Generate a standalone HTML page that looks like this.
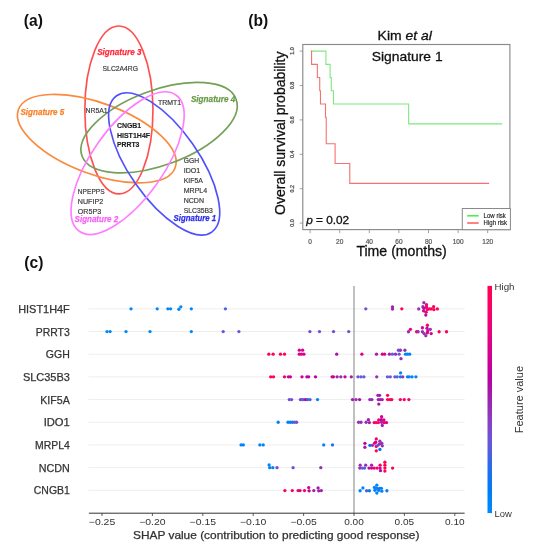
<!DOCTYPE html>
<html><head><meta charset="utf-8"><style>
html,body{margin:0;padding:0;background:#fff;width:542px;height:550px;overflow:hidden}
svg{display:block;will-change:transform;font-family:"Liberation Sans", sans-serif}
</style></head><body>
<svg width="542" height="550" viewBox="0 0 542 550">
<rect width="542" height="550" fill="#fff"/>
<text x="23.80" y="25.70" font-size="15.6" fill="#111" font-weight="bold">(a)</text>
<text x="248.30" y="25.70" font-size="15.6" fill="#111" font-weight="bold">(b)</text>
<text x="24.30" y="267.70" font-size="15.6" fill="#111" font-weight="bold">(c)</text>
<ellipse cx="118.90" cy="109.96" rx="83.93" ry="34.06" transform="rotate(89.91 118.90 109.96)" fill="none" stroke="#ff5050" stroke-width="1.65"/>
<ellipse cx="96.82" cy="138.63" rx="83.58" ry="35.50" transform="rotate(20.39 96.82 138.63)" fill="none" stroke="#f98b3f" stroke-width="1.65"/>
<ellipse cx="159.08" cy="127.62" rx="82.11" ry="37.51" transform="rotate(-20.26 159.08 127.62)" fill="none" stroke="#74a058" stroke-width="1.65"/>
<ellipse cx="164.17" cy="163.92" rx="83.11" ry="34.82" transform="rotate(55.09 164.17 163.92)" fill="none" stroke="#5050ff" stroke-width="1.65"/>
<ellipse cx="127.60" cy="163.14" rx="83.53" ry="35.84" transform="rotate(-54.65 127.60 163.14)" fill="none" stroke="#ff7eff" stroke-width="1.65"/>
<text x="97.20" y="54.60" font-size="9.8" fill="#ff2a3a" font-weight="bold" font-style="italic" textLength="44.30" lengthAdjust="spacingAndGlyphs" stroke-width="0.25" stroke="#ff2a3a">Signature 3</text>
<text x="20.50" y="114.90" font-size="9.8" fill="#f8822a" font-weight="bold" font-style="italic" textLength="43.80" lengthAdjust="spacingAndGlyphs" stroke-width="0.25" stroke="#f8822a">Signature 5</text>
<text x="190.90" y="101.80" font-size="9.8" fill="#6a9a48" font-weight="bold" font-style="italic" textLength="44.50" lengthAdjust="spacingAndGlyphs" stroke-width="0.25" stroke="#6a9a48">Signature 4</text>
<text x="173.60" y="221.40" font-size="9.8" fill="#2a2af0" font-weight="bold" font-style="italic" textLength="42.60" lengthAdjust="spacingAndGlyphs" stroke-width="0.25" stroke="#2a2af0">Signature 1</text>
<text x="74.60" y="222.30" font-size="9.8" fill="#f85ef8" font-weight="bold" font-style="italic" textLength="43.50" lengthAdjust="spacingAndGlyphs" stroke-width="0.25" stroke="#f85ef8">Signature 2</text>
<text x="102.60" y="70.90" font-size="8.1" fill="#3a3a3a" textLength="35.40" lengthAdjust="spacingAndGlyphs" stroke="#3a3a3a" stroke-width="0.2">SLC2A4RG</text>
<text x="85.40" y="112.60" font-size="8.1" fill="#3a3a3a" textLength="22.30" lengthAdjust="spacingAndGlyphs" stroke="#3a3a3a" stroke-width="0.2">NR5A1</text>
<text x="157.90" y="105.00" font-size="8.1" fill="#3a3a3a" textLength="23.20" lengthAdjust="spacingAndGlyphs" stroke="#3a3a3a" stroke-width="0.2">TRMT1</text>
<text x="116.90" y="127.60" font-size="8.1" fill="#1e1e1e" font-weight="bold" textLength="24.30" lengthAdjust="spacingAndGlyphs" stroke="#1e1e1e" stroke-width="0.15">CNGB1</text>
<text x="116.90" y="137.60" font-size="8.1" fill="#1e1e1e" font-weight="bold" textLength="33.20" lengthAdjust="spacingAndGlyphs" stroke="#1e1e1e" stroke-width="0.15">HIST1H4F</text>
<text x="116.90" y="147.30" font-size="8.1" fill="#1e1e1e" font-weight="bold" textLength="22.50" lengthAdjust="spacingAndGlyphs" stroke="#1e1e1e" stroke-width="0.15">PRRT3</text>
<text x="183.70" y="163.30" font-size="8.1" fill="#3a3a3a" textLength="15.40" lengthAdjust="spacingAndGlyphs" stroke="#3a3a3a" stroke-width="0.2">GGH</text>
<text x="183.70" y="173.22" font-size="8.1" fill="#3a3a3a" textLength="16.50" lengthAdjust="spacingAndGlyphs" stroke="#3a3a3a" stroke-width="0.2">IDO1</text>
<text x="183.70" y="183.14" font-size="8.1" fill="#3a3a3a" textLength="19.30" lengthAdjust="spacingAndGlyphs" stroke="#3a3a3a" stroke-width="0.2">KIF5A</text>
<text x="183.70" y="193.06" font-size="8.1" fill="#3a3a3a" textLength="23.50" lengthAdjust="spacingAndGlyphs" stroke="#3a3a3a" stroke-width="0.2">MRPL4</text>
<text x="183.70" y="202.98" font-size="8.1" fill="#3a3a3a" textLength="20.30" lengthAdjust="spacingAndGlyphs" stroke="#3a3a3a" stroke-width="0.2">NCDN</text>
<text x="183.70" y="212.90" font-size="8.1" fill="#3a3a3a" textLength="29.10" lengthAdjust="spacingAndGlyphs" stroke="#3a3a3a" stroke-width="0.2">SLC35B3</text>
<text x="77.80" y="194.30" font-size="8.1" fill="#3a3a3a" textLength="26.80" lengthAdjust="spacingAndGlyphs" stroke="#3a3a3a" stroke-width="0.2">NPEPPS</text>
<text x="77.80" y="204.30" font-size="8.1" fill="#3a3a3a" textLength="25.30" lengthAdjust="spacingAndGlyphs" stroke="#3a3a3a" stroke-width="0.2">NUFIP2</text>
<text x="77.80" y="214.30" font-size="8.1" fill="#3a3a3a" textLength="23.30" lengthAdjust="spacingAndGlyphs" stroke="#3a3a3a" stroke-width="0.2">OR5P3</text>
<rect x="302.8" y="44.5" width="207.1" height="185.1" fill="none" stroke="#8a8a8a" stroke-width="1.15"/>
<line x1="299.6" y1="223.1" x2="302.9" y2="223.1" stroke="#8a8a8a" stroke-width="0.8"/>
<text x="294.20" y="223.10" font-size="5.6" fill="#555" text-anchor="middle" textLength="7.40" lengthAdjust="spacingAndGlyphs" transform="rotate(-90 294.20 223.10)" stroke="#555" stroke-width="0.3">0.0</text>
<line x1="299.6" y1="188.7" x2="302.9" y2="188.7" stroke="#8a8a8a" stroke-width="0.8"/>
<text x="294.20" y="188.70" font-size="5.6" fill="#555" text-anchor="middle" textLength="7.40" lengthAdjust="spacingAndGlyphs" transform="rotate(-90 294.20 188.70)" stroke="#555" stroke-width="0.3">0.2</text>
<line x1="299.6" y1="154.3" x2="302.9" y2="154.3" stroke="#8a8a8a" stroke-width="0.8"/>
<text x="294.20" y="154.30" font-size="5.6" fill="#555" text-anchor="middle" textLength="7.40" lengthAdjust="spacingAndGlyphs" transform="rotate(-90 294.20 154.30)" stroke="#555" stroke-width="0.3">0.4</text>
<line x1="299.6" y1="119.9" x2="302.9" y2="119.9" stroke="#8a8a8a" stroke-width="0.8"/>
<text x="294.20" y="119.90" font-size="5.6" fill="#555" text-anchor="middle" textLength="7.40" lengthAdjust="spacingAndGlyphs" transform="rotate(-90 294.20 119.90)" stroke="#555" stroke-width="0.3">0.6</text>
<line x1="299.6" y1="85.5" x2="302.9" y2="85.5" stroke="#8a8a8a" stroke-width="0.8"/>
<text x="294.20" y="85.50" font-size="5.6" fill="#555" text-anchor="middle" textLength="7.40" lengthAdjust="spacingAndGlyphs" transform="rotate(-90 294.20 85.50)" stroke="#555" stroke-width="0.3">0.8</text>
<line x1="299.6" y1="51.1" x2="302.9" y2="51.1" stroke="#8a8a8a" stroke-width="0.8"/>
<text x="294.20" y="51.10" font-size="5.6" fill="#555" text-anchor="middle" textLength="7.40" lengthAdjust="spacingAndGlyphs" transform="rotate(-90 294.20 51.10)" stroke="#555" stroke-width="0.3">1.0</text>
<line x1="310.1" y1="229.7" x2="310.1" y2="233.2" stroke="#8a8a8a" stroke-width="0.8"/>
<text x="310.10" y="243.50" font-size="6.5" fill="#555" text-anchor="middle" stroke="#555" stroke-width="0.2">0</text>
<line x1="339.7" y1="229.7" x2="339.7" y2="233.2" stroke="#8a8a8a" stroke-width="0.8"/>
<text x="339.70" y="243.50" font-size="6.5" fill="#555" text-anchor="middle" stroke="#555" stroke-width="0.2">20</text>
<line x1="369.3" y1="229.7" x2="369.3" y2="233.2" stroke="#8a8a8a" stroke-width="0.8"/>
<text x="369.30" y="243.50" font-size="6.5" fill="#555" text-anchor="middle" stroke="#555" stroke-width="0.2">40</text>
<line x1="398.9" y1="229.7" x2="398.9" y2="233.2" stroke="#8a8a8a" stroke-width="0.8"/>
<text x="398.90" y="243.50" font-size="6.5" fill="#555" text-anchor="middle" stroke="#555" stroke-width="0.2">60</text>
<line x1="428.5" y1="229.7" x2="428.5" y2="233.2" stroke="#8a8a8a" stroke-width="0.8"/>
<text x="428.50" y="243.50" font-size="6.5" fill="#555" text-anchor="middle" stroke="#555" stroke-width="0.2">80</text>
<line x1="458.1" y1="229.7" x2="458.1" y2="233.2" stroke="#8a8a8a" stroke-width="0.8"/>
<text x="458.10" y="243.50" font-size="6.5" fill="#555" text-anchor="middle" stroke="#555" stroke-width="0.2">100</text>
<line x1="487.7" y1="229.7" x2="487.7" y2="233.2" stroke="#8a8a8a" stroke-width="0.8"/>
<text x="487.70" y="243.50" font-size="6.5" fill="#555" text-anchor="middle" stroke="#555" stroke-width="0.2">120</text>
<text x="356.40" y="255.60" font-size="14" fill="#111" textLength="90.40" lengthAdjust="spacingAndGlyphs" stroke="#111" stroke-width="0.3">Time (months)</text>
<text x="285.20" y="214.90" font-size="14" fill="#111" textLength="163.40" lengthAdjust="spacingAndGlyphs" transform="rotate(-90 285.20 214.90)" stroke="#111" stroke-width="0.3">Overall survival probability</text>
<text x="377.60" y="39.90" font-size="13.3" fill="#111" textLength="54.20" lengthAdjust="spacingAndGlyphs" stroke="#111" stroke-width="0.3">Kim <tspan font-style="italic">et al</tspan></text>
<text x="371.80" y="60.80" font-size="13.3" fill="#111" textLength="70.80" lengthAdjust="spacingAndGlyphs" stroke="#111" stroke-width="0.3">Signature 1</text>
<text x="306.20" y="224.20" font-size="11" fill="#111" textLength="43.00" lengthAdjust="spacingAndGlyphs" stroke="#111" stroke-width="0.3"><tspan font-style="italic">p</tspan> = 0.02</text>
<path d="M311.43,51.10 L325.94,51.10 L325.94,64.33 L330.08,64.33 L330.08,77.56 L331.26,77.56 L331.26,90.79 L333.48,90.79 L333.48,104.02 L408.67,104.02 L408.67,123.87 L502.20,123.87" fill="none" stroke="#7de87d" stroke-width="1.1"/>
<path d="M310.77,51.10 L311.58,51.10 L311.58,64.33 L317.35,64.33 L317.35,77.56 L319.72,77.56 L319.72,90.79 L320.46,90.79 L320.46,104.02 L325.49,104.02 L325.49,117.25 L326.23,117.25 L326.23,143.72 L335.11,143.72 L335.11,163.56 L349.76,163.56 L349.76,183.41 L489.18,183.41" fill="none" stroke="#f47272" stroke-width="1.1"/>
<rect x="462.3" y="208.5" width="48.1" height="21.2" fill="#fff" stroke="#8a8a8a" stroke-width="1"/>
<line x1="467.2" y1="215.8" x2="478.7" y2="215.8" stroke="#33ee33" stroke-width="1.4"/>
<line x1="467.2" y1="223.0" x2="478.7" y2="223.0" stroke="#ff4d4d" stroke-width="1.4"/>
<text x="483.60" y="217.90" font-size="6.3" fill="#222" textLength="22.20" lengthAdjust="spacingAndGlyphs" stroke="#222" stroke-width="0.15">Low risk</text>
<text x="483.60" y="225.10" font-size="6.3" fill="#222" textLength="23.50" lengthAdjust="spacingAndGlyphs" stroke="#222" stroke-width="0.15">High risk</text>
<line x1="88.5" y1="308.85" x2="464.6" y2="308.85" stroke="#ececec" stroke-width="0.9"/>
<text x="69.80" y="313.05" font-size="10.6" fill="#333" text-anchor="end" textLength="51.60" lengthAdjust="spacingAndGlyphs" stroke="#333" stroke-width="0.25">HIST1H4F</text>
<line x1="88.5" y1="331.53" x2="464.6" y2="331.53" stroke="#ececec" stroke-width="0.9"/>
<text x="69.80" y="335.73" font-size="10.6" fill="#333" text-anchor="end" textLength="34.00" lengthAdjust="spacingAndGlyphs" stroke="#333" stroke-width="0.25">PRRT3</text>
<line x1="88.5" y1="354.21" x2="464.6" y2="354.21" stroke="#ececec" stroke-width="0.9"/>
<text x="69.80" y="358.41" font-size="10.6" fill="#333" text-anchor="end" textLength="24.00" lengthAdjust="spacingAndGlyphs" stroke="#333" stroke-width="0.25">GGH</text>
<line x1="88.5" y1="376.89" x2="464.6" y2="376.89" stroke="#ececec" stroke-width="0.9"/>
<text x="69.80" y="381.09" font-size="10.6" fill="#333" text-anchor="end" textLength="46.90" lengthAdjust="spacingAndGlyphs" stroke="#333" stroke-width="0.25">SLC35B3</text>
<line x1="88.5" y1="399.57" x2="464.6" y2="399.57" stroke="#ececec" stroke-width="0.9"/>
<text x="69.80" y="403.77" font-size="10.6" fill="#333" text-anchor="end" textLength="29.60" lengthAdjust="spacingAndGlyphs" stroke="#333" stroke-width="0.25">KIF5A</text>
<line x1="88.5" y1="422.25" x2="464.6" y2="422.25" stroke="#ececec" stroke-width="0.9"/>
<text x="69.80" y="426.45" font-size="10.6" fill="#333" text-anchor="end" textLength="26.10" lengthAdjust="spacingAndGlyphs" stroke="#333" stroke-width="0.25">IDO1</text>
<line x1="88.5" y1="444.93" x2="464.6" y2="444.93" stroke="#ececec" stroke-width="0.9"/>
<text x="69.80" y="449.13" font-size="10.6" fill="#333" text-anchor="end" textLength="34.70" lengthAdjust="spacingAndGlyphs" stroke="#333" stroke-width="0.25">MRPL4</text>
<line x1="88.5" y1="467.61" x2="464.6" y2="467.61" stroke="#ececec" stroke-width="0.9"/>
<text x="69.80" y="471.81" font-size="10.6" fill="#333" text-anchor="end" textLength="31.10" lengthAdjust="spacingAndGlyphs" stroke="#333" stroke-width="0.25">NCDN</text>
<line x1="88.5" y1="490.29" x2="464.6" y2="490.29" stroke="#ececec" stroke-width="0.9"/>
<text x="69.80" y="494.49" font-size="10.6" fill="#333" text-anchor="end" textLength="36.00" lengthAdjust="spacingAndGlyphs" stroke="#333" stroke-width="0.25">CNGB1</text>
<line x1="354.00" y1="286" x2="354.00" y2="513.2" stroke="#8e8e8e" stroke-width="1.1"/>
<circle cx="131.00" cy="308.85" r="1.65" fill="#0088fa"/>
<circle cx="157.20" cy="308.85" r="1.65" fill="#0088fa"/>
<circle cx="167.90" cy="308.85" r="1.65" fill="#0088fa"/>
<circle cx="170.60" cy="308.85" r="1.65" fill="#0088fa"/>
<circle cx="178.90" cy="309.25" r="1.65" fill="#0088fa"/>
<circle cx="180.80" cy="306.85" r="1.65" fill="#0088fa"/>
<circle cx="191.30" cy="308.85" r="1.65" fill="#0088fa"/>
<circle cx="225.40" cy="308.85" r="1.65" fill="#4c63e3"/>
<circle cx="365.80" cy="308.85" r="1.65" fill="#764ed0"/>
<circle cx="392.50" cy="306.85" r="1.65" fill="#a01fab"/>
<circle cx="392.50" cy="309.05" r="1.65" fill="#a01fab"/>
<circle cx="401.80" cy="308.85" r="1.65" fill="#ff005a"/>
<circle cx="418.70" cy="308.95" r="1.65" fill="#9430b6"/>
<circle cx="423.90" cy="302.65" r="1.65" fill="#9430b6"/>
<circle cx="422.90" cy="306.65" r="1.65" fill="#9430b6"/>
<circle cx="423.90" cy="308.25" r="1.65" fill="#b00fa5"/>
<circle cx="423.60" cy="310.85" r="1.65" fill="#e10084"/>
<circle cx="425.80" cy="315.05" r="1.65" fill="#b00fa5"/>
<circle cx="426.50" cy="304.75" r="1.65" fill="#f6006c"/>
<circle cx="426.50" cy="307.25" r="1.65" fill="#f00074"/>
<circle cx="426.10" cy="312.15" r="1.65" fill="#e10084"/>
<circle cx="427.40" cy="309.55" r="1.65" fill="#fb0063"/>
<circle cx="429.40" cy="308.95" r="1.65" fill="#ff005a"/>
<circle cx="431.30" cy="308.95" r="1.65" fill="#ff005a"/>
<circle cx="433.60" cy="306.65" r="1.65" fill="#ff005a"/>
<circle cx="433.90" cy="309.55" r="1.65" fill="#ff005a"/>
<circle cx="437.40" cy="308.95" r="1.65" fill="#ff005a"/>
<circle cx="107.00" cy="331.55" r="1.65" fill="#0088fa"/>
<circle cx="110.10" cy="331.55" r="1.65" fill="#0088fa"/>
<circle cx="126.00" cy="331.55" r="1.65" fill="#0088fa"/>
<circle cx="150.00" cy="331.55" r="1.65" fill="#0088fa"/>
<circle cx="191.30" cy="331.55" r="1.65" fill="#0088fa"/>
<circle cx="223.20" cy="331.55" r="1.65" fill="#6459da"/>
<circle cx="238.90" cy="331.55" r="1.65" fill="#6459da"/>
<circle cx="309.90" cy="331.55" r="1.65" fill="#764ed0"/>
<circle cx="319.50" cy="331.55" r="1.65" fill="#764ed0"/>
<circle cx="333.50" cy="331.55" r="1.65" fill="#764ed0"/>
<circle cx="348.70" cy="331.55" r="1.65" fill="#764ed0"/>
<circle cx="408.50" cy="331.75" r="1.65" fill="#9430b6"/>
<circle cx="410.40" cy="329.35" r="1.65" fill="#e9007c"/>
<circle cx="416.60" cy="331.75" r="1.65" fill="#ff005a"/>
<circle cx="418.10" cy="331.75" r="1.65" fill="#9430b6"/>
<circle cx="422.40" cy="327.75" r="1.65" fill="#d9008c"/>
<circle cx="422.40" cy="331.75" r="1.65" fill="#9430b6"/>
<circle cx="424.10" cy="333.55" r="1.65" fill="#9430b6"/>
<circle cx="425.80" cy="335.65" r="1.65" fill="#9430b6"/>
<circle cx="427.40" cy="325.25" r="1.65" fill="#ff005a"/>
<circle cx="427.00" cy="328.15" r="1.65" fill="#b00fa5"/>
<circle cx="427.80" cy="330.65" r="1.65" fill="#e10084"/>
<circle cx="427.40" cy="332.75" r="1.65" fill="#d9008c"/>
<circle cx="430.30" cy="329.35" r="1.65" fill="#9430b6"/>
<circle cx="431.20" cy="333.55" r="1.65" fill="#d9008c"/>
<circle cx="439.10" cy="331.75" r="1.65" fill="#ff005a"/>
<circle cx="446.50" cy="331.75" r="1.65" fill="#ff005a"/>
<circle cx="268.80" cy="354.15" r="1.65" fill="#ff005a"/>
<circle cx="273.10" cy="354.15" r="1.65" fill="#ff005a"/>
<circle cx="280.50" cy="354.15" r="1.65" fill="#ff005a"/>
<circle cx="284.50" cy="354.15" r="1.65" fill="#ff005a"/>
<circle cx="299.30" cy="350.15" r="1.65" fill="#d9008c"/>
<circle cx="302.60" cy="350.15" r="1.65" fill="#d9008c"/>
<circle cx="299.30" cy="354.15" r="1.65" fill="#d9008c"/>
<circle cx="301.50" cy="354.15" r="1.65" fill="#d9008c"/>
<circle cx="303.90" cy="354.15" r="1.65" fill="#d9008c"/>
<circle cx="336.70" cy="354.15" r="1.65" fill="#b00fa5"/>
<circle cx="361.90" cy="354.15" r="1.65" fill="#e10084"/>
<circle cx="376.50" cy="354.15" r="1.65" fill="#a01fab"/>
<circle cx="382.30" cy="354.15" r="1.65" fill="#d9008c"/>
<circle cx="384.60" cy="354.15" r="1.65" fill="#d9008c"/>
<circle cx="389.40" cy="354.15" r="1.65" fill="#a01fab"/>
<circle cx="392.40" cy="354.15" r="1.65" fill="#6459da"/>
<circle cx="395.50" cy="354.15" r="1.65" fill="#9430b6"/>
<circle cx="398.40" cy="350.25" r="1.65" fill="#6459da"/>
<circle cx="400.40" cy="350.25" r="1.65" fill="#9430b6"/>
<circle cx="399.10" cy="354.15" r="1.65" fill="#6459da"/>
<circle cx="401.00" cy="358.65" r="1.65" fill="#9430b6"/>
<circle cx="404.90" cy="350.25" r="1.65" fill="#9430b6"/>
<circle cx="405.50" cy="354.15" r="1.65" fill="#0084f9"/>
<circle cx="407.50" cy="354.15" r="1.65" fill="#0084f9"/>
<circle cx="409.70" cy="354.15" r="1.65" fill="#0084f9"/>
<circle cx="270.70" cy="376.85" r="1.65" fill="#ff005a"/>
<circle cx="273.50" cy="376.85" r="1.65" fill="#ff005a"/>
<circle cx="284.50" cy="376.85" r="1.65" fill="#f00074"/>
<circle cx="288.40" cy="376.85" r="1.65" fill="#d10091"/>
<circle cx="290.40" cy="376.85" r="1.65" fill="#c70098"/>
<circle cx="302.00" cy="376.85" r="1.65" fill="#d10091"/>
<circle cx="306.90" cy="376.85" r="1.65" fill="#bf009d"/>
<circle cx="308.60" cy="376.85" r="1.65" fill="#bf009d"/>
<circle cx="315.50" cy="376.85" r="1.65" fill="#bf009d"/>
<circle cx="332.10" cy="376.85" r="1.65" fill="#cd0095"/>
<circle cx="333.40" cy="376.85" r="1.65" fill="#cd0095"/>
<circle cx="337.10" cy="376.85" r="1.65" fill="#a01fab"/>
<circle cx="340.80" cy="376.85" r="1.65" fill="#9829b1"/>
<circle cx="345.00" cy="376.85" r="1.65" fill="#cd0095"/>
<circle cx="351.30" cy="376.85" r="1.65" fill="#a01fab"/>
<circle cx="358.00" cy="376.85" r="1.65" fill="#6f52d4"/>
<circle cx="361.00" cy="376.85" r="1.65" fill="#6459da"/>
<circle cx="363.90" cy="376.85" r="1.65" fill="#6459da"/>
<circle cx="376.70" cy="376.85" r="1.65" fill="#9430b6"/>
<circle cx="387.50" cy="376.85" r="1.65" fill="#6459da"/>
<circle cx="390.30" cy="376.85" r="1.65" fill="#6459da"/>
<circle cx="394.90" cy="376.85" r="1.65" fill="#6459da"/>
<circle cx="397.10" cy="376.85" r="1.65" fill="#6459da"/>
<circle cx="400.60" cy="372.95" r="1.65" fill="#0084f9"/>
<circle cx="400.40" cy="376.85" r="1.65" fill="#007cf5"/>
<circle cx="402.70" cy="376.85" r="1.65" fill="#9430b6"/>
<circle cx="407.50" cy="376.85" r="1.65" fill="#0084f9"/>
<circle cx="409.20" cy="376.85" r="1.65" fill="#0084f9"/>
<circle cx="412.00" cy="376.85" r="1.65" fill="#0084f9"/>
<circle cx="415.90" cy="376.85" r="1.65" fill="#0084f9"/>
<circle cx="289.30" cy="399.55" r="1.65" fill="#7350d2"/>
<circle cx="291.60" cy="399.55" r="1.65" fill="#7350d2"/>
<circle cx="300.40" cy="399.55" r="1.65" fill="#7350d2"/>
<circle cx="302.00" cy="399.55" r="1.65" fill="#7350d2"/>
<circle cx="303.90" cy="399.55" r="1.65" fill="#794cce"/>
<circle cx="305.80" cy="399.55" r="1.65" fill="#bf009d"/>
<circle cx="307.80" cy="399.55" r="1.65" fill="#266cea"/>
<circle cx="310.00" cy="399.55" r="1.65" fill="#4c63e3"/>
<circle cx="317.50" cy="399.55" r="1.65" fill="#0084f9"/>
<circle cx="352.50" cy="399.55" r="1.65" fill="#a01fab"/>
<circle cx="356.00" cy="399.55" r="1.65" fill="#9430b6"/>
<circle cx="359.60" cy="399.55" r="1.65" fill="#b00fa5"/>
<circle cx="369.80" cy="399.55" r="1.65" fill="#9430b6"/>
<circle cx="371.90" cy="399.55" r="1.65" fill="#9430b6"/>
<circle cx="377.90" cy="395.35" r="1.65" fill="#a01fab"/>
<circle cx="379.60" cy="395.35" r="1.65" fill="#a01fab"/>
<circle cx="378.30" cy="399.55" r="1.65" fill="#a01fab"/>
<circle cx="380.10" cy="399.55" r="1.65" fill="#a01fab"/>
<circle cx="382.20" cy="399.55" r="1.65" fill="#a01fab"/>
<circle cx="378.80" cy="404.05" r="1.65" fill="#a01fab"/>
<circle cx="387.60" cy="395.35" r="1.65" fill="#ff005a"/>
<circle cx="387.60" cy="399.55" r="1.65" fill="#ff005a"/>
<circle cx="390.00" cy="399.55" r="1.65" fill="#ff005a"/>
<circle cx="391.80" cy="399.55" r="1.65" fill="#ff005a"/>
<circle cx="400.30" cy="399.55" r="1.65" fill="#fb0063"/>
<circle cx="404.20" cy="399.55" r="1.65" fill="#f6006c"/>
<circle cx="408.90" cy="399.55" r="1.65" fill="#fb0063"/>
<circle cx="278.20" cy="422.25" r="1.65" fill="#0084f9"/>
<circle cx="288.00" cy="422.25" r="1.65" fill="#0084f9"/>
<circle cx="290.20" cy="422.25" r="1.65" fill="#0084f9"/>
<circle cx="292.40" cy="422.25" r="1.65" fill="#007cf5"/>
<circle cx="294.50" cy="422.25" r="1.65" fill="#6459da"/>
<circle cx="296.60" cy="422.25" r="1.65" fill="#764ed0"/>
<circle cx="358.60" cy="422.25" r="1.65" fill="#9430b6"/>
<circle cx="361.00" cy="422.25" r="1.65" fill="#9430b6"/>
<circle cx="366.10" cy="422.25" r="1.65" fill="#9430b6"/>
<circle cx="368.40" cy="419.65" r="1.65" fill="#a01fab"/>
<circle cx="369.40" cy="422.55" r="1.65" fill="#a01fab"/>
<circle cx="374.20" cy="422.55" r="1.65" fill="#ff005a"/>
<circle cx="376.10" cy="422.55" r="1.65" fill="#ff005a"/>
<circle cx="378.70" cy="419.95" r="1.65" fill="#f6006c"/>
<circle cx="378.40" cy="422.55" r="1.65" fill="#fb0063"/>
<circle cx="381.60" cy="416.75" r="1.65" fill="#d9008c"/>
<circle cx="381.30" cy="419.65" r="1.65" fill="#bf009d"/>
<circle cx="381.60" cy="422.25" r="1.65" fill="#a01fab"/>
<circle cx="382.30" cy="425.45" r="1.65" fill="#a01fab"/>
<circle cx="383.90" cy="419.95" r="1.65" fill="#e10084"/>
<circle cx="384.20" cy="422.55" r="1.65" fill="#e10084"/>
<circle cx="386.50" cy="422.55" r="1.65" fill="#e10084"/>
<circle cx="241.10" cy="444.95" r="1.65" fill="#0084f9"/>
<circle cx="243.30" cy="444.95" r="1.65" fill="#0084f9"/>
<circle cx="259.90" cy="444.95" r="1.65" fill="#0084f9"/>
<circle cx="263.20" cy="444.95" r="1.65" fill="#0084f9"/>
<circle cx="323.70" cy="444.95" r="1.65" fill="#0084f9"/>
<circle cx="332.50" cy="444.95" r="1.65" fill="#266cea"/>
<circle cx="364.90" cy="443.35" r="1.65" fill="#bf009d"/>
<circle cx="364.90" cy="447.25" r="1.65" fill="#a01fab"/>
<circle cx="369.90" cy="445.35" r="1.65" fill="#0074f0"/>
<circle cx="372.40" cy="445.35" r="1.65" fill="#9430b6"/>
<circle cx="374.60" cy="443.15" r="1.65" fill="#e10084"/>
<circle cx="376.30" cy="438.95" r="1.65" fill="#ff005a"/>
<circle cx="375.70" cy="442.25" r="1.65" fill="#e10084"/>
<circle cx="376.30" cy="446.45" r="1.65" fill="#f00074"/>
<circle cx="376.30" cy="450.85" r="1.65" fill="#ff005a"/>
<circle cx="377.90" cy="445.35" r="1.65" fill="#6459da"/>
<circle cx="379.90" cy="441.15" r="1.65" fill="#9430b6"/>
<circle cx="379.60" cy="443.95" r="1.65" fill="#9430b6"/>
<circle cx="379.90" cy="449.45" r="1.65" fill="#0074f0"/>
<circle cx="381.80" cy="443.35" r="1.65" fill="#9430b6"/>
<circle cx="382.30" cy="445.85" r="1.65" fill="#9430b6"/>
<circle cx="269.10" cy="464.95" r="1.65" fill="#0084f9"/>
<circle cx="269.70" cy="467.65" r="1.65" fill="#0084f9"/>
<circle cx="272.80" cy="467.65" r="1.65" fill="#0084f9"/>
<circle cx="277.00" cy="467.65" r="1.65" fill="#764ed0"/>
<circle cx="293.10" cy="467.65" r="1.65" fill="#764ed0"/>
<circle cx="320.80" cy="467.65" r="1.65" fill="#9430b6"/>
<circle cx="360.20" cy="465.15" r="1.65" fill="#9430b6"/>
<circle cx="359.80" cy="468.05" r="1.65" fill="#9430b6"/>
<circle cx="362.40" cy="468.05" r="1.65" fill="#6459da"/>
<circle cx="364.60" cy="468.05" r="1.65" fill="#4c63e3"/>
<circle cx="365.70" cy="465.15" r="1.65" fill="#9430b6"/>
<circle cx="369.00" cy="468.05" r="1.65" fill="#b00fa5"/>
<circle cx="371.60" cy="465.15" r="1.65" fill="#a01fab"/>
<circle cx="371.60" cy="468.05" r="1.65" fill="#d9008c"/>
<circle cx="374.20" cy="468.05" r="1.65" fill="#f00074"/>
<circle cx="377.10" cy="468.05" r="1.65" fill="#f00074"/>
<circle cx="380.10" cy="465.15" r="1.65" fill="#fb0063"/>
<circle cx="380.10" cy="468.05" r="1.65" fill="#e10084"/>
<circle cx="380.50" cy="470.65" r="1.65" fill="#b00fa5"/>
<circle cx="384.90" cy="462.25" r="1.65" fill="#ff005a"/>
<circle cx="384.90" cy="465.15" r="1.65" fill="#ff005a"/>
<circle cx="384.90" cy="468.05" r="1.65" fill="#ff005a"/>
<circle cx="384.90" cy="471.05" r="1.65" fill="#ff005a"/>
<circle cx="392.60" cy="468.05" r="1.65" fill="#ff005a"/>
<circle cx="284.90" cy="490.55" r="1.65" fill="#ff005a"/>
<circle cx="292.30" cy="490.55" r="1.65" fill="#ff005a"/>
<circle cx="298.10" cy="490.55" r="1.65" fill="#f6006c"/>
<circle cx="300.00" cy="490.55" r="1.65" fill="#e10084"/>
<circle cx="304.50" cy="490.55" r="1.65" fill="#fb0063"/>
<circle cx="308.70" cy="487.55" r="1.65" fill="#d9008c"/>
<circle cx="309.10" cy="490.85" r="1.65" fill="#bf009d"/>
<circle cx="313.80" cy="490.55" r="1.65" fill="#a01fab"/>
<circle cx="318.10" cy="487.95" r="1.65" fill="#a01fab"/>
<circle cx="318.70" cy="490.85" r="1.65" fill="#a01fab"/>
<circle cx="321.30" cy="490.55" r="1.65" fill="#a01fab"/>
<circle cx="360.10" cy="490.75" r="1.65" fill="#0084f9"/>
<circle cx="362.90" cy="487.95" r="1.65" fill="#0084f9"/>
<circle cx="366.60" cy="490.75" r="1.65" fill="#4c63e3"/>
<circle cx="369.40" cy="490.75" r="1.65" fill="#007cf5"/>
<circle cx="374.40" cy="487.45" r="1.65" fill="#0084f9"/>
<circle cx="374.90" cy="490.25" r="1.65" fill="#0084f9"/>
<circle cx="376.80" cy="485.15" r="1.65" fill="#0084f9"/>
<circle cx="376.80" cy="488.35" r="1.65" fill="#0084f9"/>
<circle cx="376.80" cy="493.05" r="1.65" fill="#0084f9"/>
<circle cx="378.60" cy="490.45" r="1.65" fill="#0084f9"/>
<circle cx="379.50" cy="488.35" r="1.65" fill="#266cea"/>
<circle cx="381.40" cy="488.35" r="1.65" fill="#0084f9"/>
<circle cx="381.80" cy="491.15" r="1.65" fill="#0084f9"/>
<circle cx="386.90" cy="490.75" r="1.65" fill="#0084f9"/>
<line x1="88.9" y1="513.2" x2="464.6" y2="513.2" stroke="#333" stroke-width="1"/>
<line x1="102.00" y1="513.2" x2="102.00" y2="516.0" stroke="#333" stroke-width="0.8"/>
<text x="102.00" y="525.40" font-size="9.0" fill="#333" text-anchor="middle" textLength="26.40" lengthAdjust="spacingAndGlyphs">−0.25</text>
<line x1="152.40" y1="513.2" x2="152.40" y2="516.0" stroke="#333" stroke-width="0.8"/>
<text x="152.40" y="525.40" font-size="9.0" fill="#333" text-anchor="middle" textLength="26.40" lengthAdjust="spacingAndGlyphs">−0.20</text>
<line x1="202.80" y1="513.2" x2="202.80" y2="516.0" stroke="#333" stroke-width="0.8"/>
<text x="202.80" y="525.40" font-size="9.0" fill="#333" text-anchor="middle" textLength="26.40" lengthAdjust="spacingAndGlyphs">−0.15</text>
<line x1="253.20" y1="513.2" x2="253.20" y2="516.0" stroke="#333" stroke-width="0.8"/>
<text x="253.20" y="525.40" font-size="9.0" fill="#333" text-anchor="middle" textLength="26.40" lengthAdjust="spacingAndGlyphs">−0.10</text>
<line x1="303.60" y1="513.2" x2="303.60" y2="516.0" stroke="#333" stroke-width="0.8"/>
<text x="303.60" y="525.40" font-size="9.0" fill="#333" text-anchor="middle" textLength="26.40" lengthAdjust="spacingAndGlyphs">−0.05</text>
<line x1="354.00" y1="513.2" x2="354.00" y2="516.0" stroke="#333" stroke-width="0.8"/>
<text x="354.00" y="525.40" font-size="9.0" fill="#333" text-anchor="middle" textLength="19.60" lengthAdjust="spacingAndGlyphs">0.00</text>
<line x1="404.40" y1="513.2" x2="404.40" y2="516.0" stroke="#333" stroke-width="0.8"/>
<text x="404.40" y="525.40" font-size="9.0" fill="#333" text-anchor="middle" textLength="19.60" lengthAdjust="spacingAndGlyphs">0.05</text>
<line x1="454.80" y1="513.2" x2="454.80" y2="516.0" stroke="#333" stroke-width="0.8"/>
<text x="454.80" y="525.40" font-size="9.0" fill="#333" text-anchor="middle" textLength="19.60" lengthAdjust="spacingAndGlyphs">0.10</text>
<text x="133.00" y="538.80" font-size="10.6" fill="#333" textLength="286.40" lengthAdjust="spacingAndGlyphs" stroke="#333" stroke-width="0.25">SHAP value (contribution to predicting good response)</text>
<defs><linearGradient id="cb" x1="0" y1="0" x2="0" y2="1"><stop offset="0.0" stop-color="#ff0051"/><stop offset="0.1" stop-color="#f80067"/><stop offset="0.2" stop-color="#e9007c"/><stop offset="0.3" stop-color="#d40090"/><stop offset="0.4" stop-color="#b900a0"/><stop offset="0.5" stop-color="#9d22ac"/><stop offset="0.6" stop-color="#8542c5"/><stop offset="0.7" stop-color="#6459da"/><stop offset="0.8" stop-color="#266cea"/><stop offset="0.9" stop-color="#007cf5"/><stop offset="1.0" stop-color="#008bfb"/></linearGradient></defs>
<rect x="487.5" y="285.9" width="4.5" height="227.2" fill="url(#cb)"/>
<text x="494.50" y="289.50" font-size="8.9" fill="#333" textLength="20.00" lengthAdjust="spacingAndGlyphs">High</text>
<text x="494.50" y="516.60" font-size="8.9" fill="#333" textLength="17.30" lengthAdjust="spacingAndGlyphs">Low</text>
<text x="523.00" y="433.20" font-size="10.2" fill="#333" textLength="67.20" lengthAdjust="spacingAndGlyphs" transform="rotate(-90 523.00 433.20)">Feature value</text>
</svg></body></html>
